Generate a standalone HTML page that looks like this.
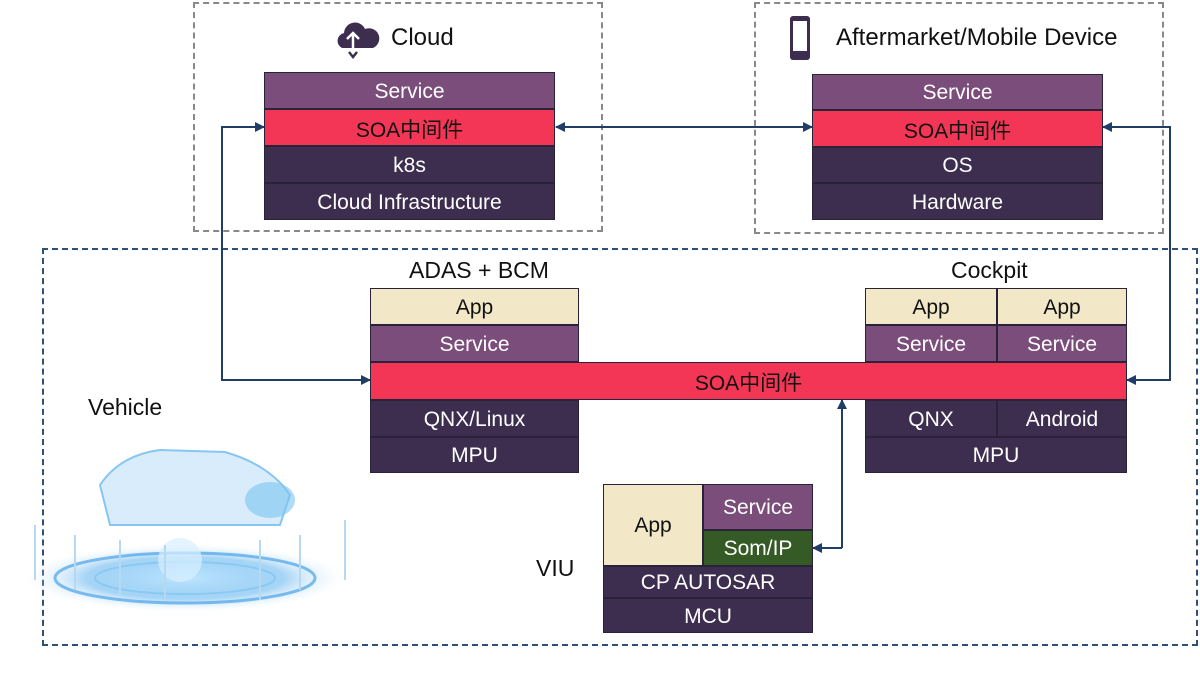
<!DOCTYPE html>
<html><head><meta charset="utf-8"><style>
body{margin:0;width:1200px;height:673px;background:#fff;position:relative;overflow:hidden;font-family:"Segoe UI","Liberation Sans","Noto Sans CJK SC",sans-serif}
.b{position:absolute;box-sizing:border-box;display:flex;align-items:center;justify-content:center;font-size:21px;color:#fff;border:1px solid #2a2238;padding-top:2px}
.s{background:#7a4d7a}.r{background:#f43656;color:#111}.d{background:#3d2e4f}.y{background:#f2e8c8;color:#111}.g{background:#355a25}
.t{position:absolute;font-size:23px;color:#111;white-space:nowrap}
</style></head><body>
<div style="position:absolute;left:193px;top:2px;width:410px;height:230px;border:2px dashed #888;box-sizing:border-box"></div>
<div style="position:absolute;left:754px;top:2px;width:410px;height:232px;border:2px dashed #888;box-sizing:border-box"></div>
<div style="position:absolute;left:42px;top:248px;width:1156px;height:398px;border:2px dashed #2f5078;box-sizing:border-box"></div>

<div class="t" style="left:391px;top:24px;font-size:24px">Cloud</div>
<svg style="position:absolute;left:334px;top:16px" width="50" height="46"><path d="M8 32 a8 8 0 0 1 2-15 a11 11 0 0 1 21-4 a9 9 0 0 1 8 19z" fill="#3d2e4f"/><path d="M19 40 V18 M13 23 l6-6 6 6 M14 36 l5 6 5-6" stroke="#fff" stroke-width="2.5" fill="none"/><path d="M15 36 l4 5 4-5" stroke="#3d2e4f" stroke-width="2.5" fill="none"/></svg>
<div class="t" style="left:836px;top:24px;font-size:24px">Aftermarket/Mobile Device</div>
<div style="position:absolute;left:790px;top:16px;width:20px;height:44px;background:#3d2e4f;border-radius:3px"><div style="position:absolute;left:3px;top:5px;width:14px;height:30px;background:#fff"></div></div>

<div class="b s" style="left:264px;top:72px;width:291px;height:37px">Service</div>
<div class="b r" style="left:264px;top:109px;width:291px;height:37px">SOA中间件</div>
<div class="b d" style="left:264px;top:146px;width:291px;height:37px">k8s</div>
<div class="b d" style="left:264px;top:183px;width:291px;height:37px">Cloud Infrastructure</div>

<div class="b s" style="left:812px;top:74px;width:291px;height:36px">Service</div>
<div class="b r" style="left:812px;top:110px;width:291px;height:37px">SOA中间件</div>
<div class="b d" style="left:812px;top:147px;width:291px;height:36px">OS</div>
<div class="b d" style="left:812px;top:183px;width:291px;height:37px">Hardware</div>

<div class="t" style="left:409px;top:257px">ADAS + BCM</div>
<div class="t" style="left:951px;top:257px">Cockpit</div>
<div class="b y" style="left:370px;top:288px;width:209px;height:37px">App</div>
<div class="b s" style="left:370px;top:325px;width:209px;height:37px">Service</div>
<div class="b r" style="left:370px;top:362px;width:757px;height:38px">SOA中间件</div>
<div class="b d" style="left:370px;top:400px;width:209px;height:37px">QNX/Linux</div>
<div class="b d" style="left:370px;top:437px;width:209px;height:36px">MPU</div>

<div class="b y" style="left:865px;top:288px;width:132px;height:37px">App</div>
<div class="b y" style="left:997px;top:288px;width:130px;height:37px">App</div>
<div class="b s" style="left:865px;top:325px;width:132px;height:37px">Service</div>
<div class="b s" style="left:997px;top:325px;width:130px;height:37px">Service</div>
<div class="b d" style="left:865px;top:400px;width:132px;height:37px">QNX</div>
<div class="b d" style="left:997px;top:400px;width:130px;height:37px">Android</div>
<div class="b d" style="left:865px;top:437px;width:262px;height:36px">MPU</div>

<div class="b y" style="left:603px;top:484px;width:100px;height:82px">App</div>
<div class="b s" style="left:703px;top:484px;width:110px;height:46px">Service</div>
<div class="b g" style="left:703px;top:530px;width:110px;height:36px">Som/IP</div>
<div class="b d" style="left:603px;top:566px;width:210px;height:32px">CP AUTOSAR</div>
<div class="b d" style="left:603px;top:598px;width:210px;height:35px">MCU</div>
<div class="t" style="left:536px;top:555px">VIU</div>
<div class="t" style="left:88px;top:394px">Vehicle</div>

<svg style="position:absolute;left:0;top:0" width="1200" height="673">
<defs><marker id="a" markerWidth="10" markerHeight="10" refX="9" refY="5" orient="auto" markerUnits="userSpaceOnUse"><path d="M0 0 L10 5 L0 10z" fill="#1f3d66"/></marker>
<radialGradient id="gl"><stop offset="0" stop-color="#bfe6ff"/><stop offset="0.6" stop-color="#6ab8ef" stop-opacity=".6"/><stop offset="1" stop-color="#fff" stop-opacity="0"/></radialGradient></defs>
<g stroke="#1f3d66" stroke-width="2" fill="none">
<path d="M264 127 H222 V380 H370" marker-end="url(#a)"/><path d="M222 127 H264" marker-end="url(#a)"/>
<path d="M556 127 H812" marker-end="url(#a)"/><path d="M812 127 H556" marker-end="url(#a)"/>
<path d="M1103 127 H1170 V380 H1127" marker-end="url(#a)"/><path d="M1170 127 H1103" marker-end="url(#a)"/>
<path d="M842 548 V400" marker-end="url(#a)"/><path d="M842 548 H813" marker-end="url(#a)"/>
</g>
<ellipse cx="185" cy="578" rx="165" ry="35" fill="url(#gl)"/>
<ellipse cx="185" cy="578" rx="130" ry="25" fill="none" stroke="#4aa3e8" stroke-width="3" opacity=".7"/>
<ellipse cx="185" cy="578" rx="90" ry="16" fill="none" stroke="#7cc4f2" stroke-width="2" opacity=".7"/>
<path d="M100 485 Q120 455 160 450 L225 452 Q270 465 290 495 L280 525 L110 525 Z" fill="#cfe8fb" stroke="#6ab8ef" stroke-width="2" opacity=".8"/>
<ellipse cx="270" cy="500" rx="25" ry="18" fill="#7cc4f2" opacity=".6"/>
<circle cx="180" cy="560" r="22" fill="#d9f0ff" opacity=".7"/>
<g stroke="#b8d8ef" stroke-width="2"><path d="M35 525 V580 M75 535 V590 M120 540 V595 M165 545 V600 M260 540 V600 M300 535 V590 M345 520 V580"/></g>
</svg>
</body></html>
